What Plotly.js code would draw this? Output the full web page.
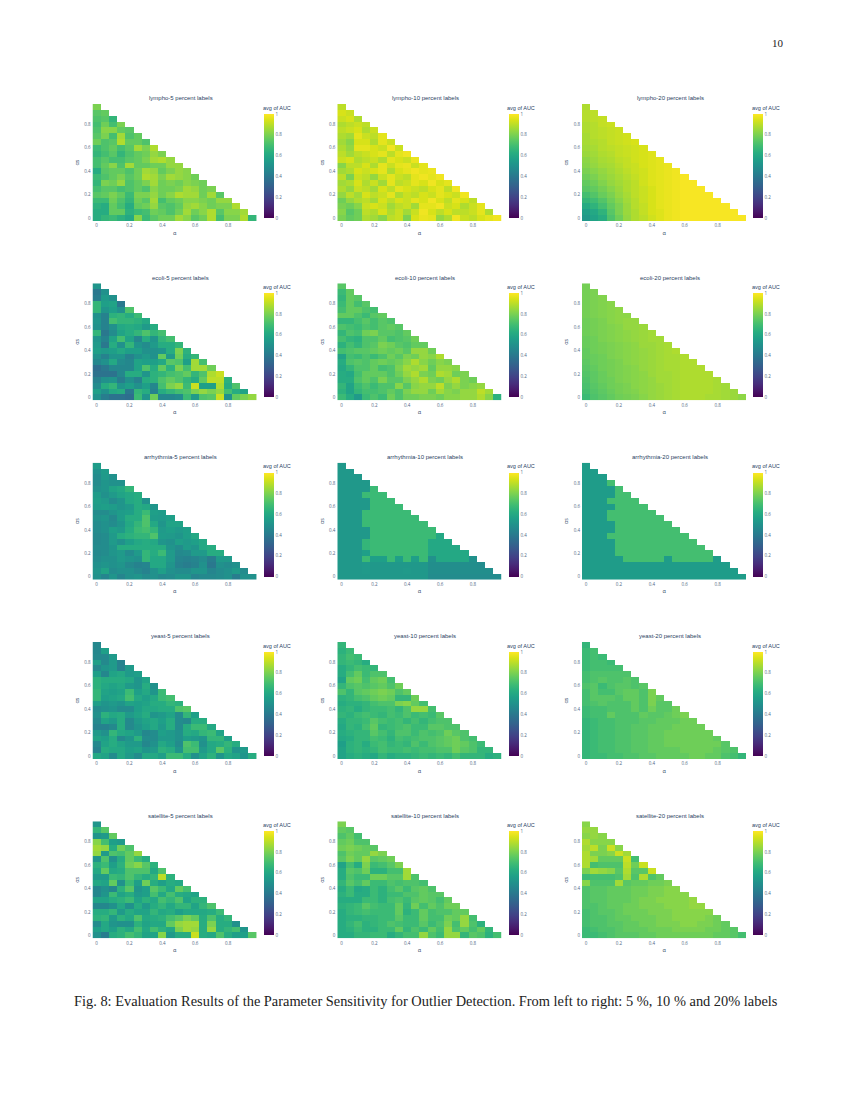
<!DOCTYPE html>
<html>
<head>
<meta charset="utf-8">
<script src="https://cdn.plot.ly/plotly-3.0.1.min.js"></script>
<style>
html, body { margin: 0; padding: 0; background: #fff; }
#page { width: 850px; height: 1100px; }
</style>
</head>
<body>
<div id="page"></div>
<script>
// grid values of both parameters
const grid = [0, 0.05, 0.1, 0.15, 0.2, 0.25, 0.3, 0.35, 0.4, 0.45, 0.5, 0.55, 0.6, 0.65, 0.7, 0.75, 0.8, 0.85, 0.9, 0.95];
const axis_ticks = [0, 0.2, 0.4, 0.6, 0.8];
const bar_ticks = [0, 0.2, 0.4, 0.6, 0.8, 1];
const datasets = ["lympho", "ecoli", "arrhythmia", "yeast", "satellite"];
const percents = [5, 10, 20];

// avg of AUC x100. First row is y = 0, rows get shorter going up.
const lympho_5 = [
  [62,66,68,64,60,82,68,74,78,78,86,82,74,78,88,70,80,80,88,66],
  [62,62,76,76,64,68,70,78,76,72,78,86,78,82,88,74,82,82,86],
  [64,62,76,70,62,76,78,84,74,72,76,84,86,82,78,80,80,88],
  [68,68,78,72,66,78,74,86,70,76,78,82,82,80,78,84,84],
  [74,76,80,76,68,80,80,84,78,82,88,86,86,78,86,74],
  [70,74,74,70,72,76,72,82,78,78,80,86,84,78,80],
  [66,80,78,84,72,76,80,86,78,80,78,82,80,78],
  [68,72,76,80,74,78,88,86,80,86,84,82,78],
  [62,74,76,76,72,78,86,84,76,80,84,82],
  [70,76,82,72,86,76,76,78,78,84,84],
  [70,74,70,70,74,76,80,86,88,84],
  [66,70,74,66,72,76,78,84,80],
  [68,72,76,70,74,86,80,88],
  [78,72,74,88,76,76,72],
  [74,80,70,86,72,76],
  [72,82,82,76,74],
  [70,78,70,80],
  [72,74,66],
  [74,76],
  [80]
];
const lympho_10 = [
  [80,76,78,88,86,82,90,92,80,94,97,96,84,88,98,92,90,94,96,98],
  [82,74,78,90,88,94,88,92,86,92,98,94,90,94,90,90,92,96,88],
  [80,78,82,92,94,92,86,90,92,86,96,96,98,92,94,88,92,96],
  [78,84,88,90,86,94,90,94,92,96,94,98,94,90,96,94,90],
  [84,90,86,94,90,92,96,88,92,90,94,92,96,94,92,98],
  [88,84,92,90,86,94,90,96,94,92,90,94,96,90,98],
  [86,88,94,88,92,86,96,90,92,96,94,98,94,96],
  [90,80,92,90,84,92,96,92,90,96,98,96,98],
  [86,88,94,92,94,96,88,94,96,98,96,97],
  [82,90,90,94,88,96,92,96,97,92,96],
  [92,94,88,90,92,88,96,94,92,97],
  [90,86,90,92,94,96,90,96,98],
  [88,84,96,96,94,92,98,92],
  [86,82,94,94,88,96,92],
  [88,86,96,92,90,96],
  [90,92,94,88,92],
  [88,90,92,90],
  [92,94,88],
  [94,92],
  [90]
];
const lympho_20 = [
  [53,58,62,72,78,84,88,90,93,95,97,98,99,99,99,99,99,99,99,99],
  [56,60,65,74,80,85,88,91,94,95,97,98,99,99,99,99,99,99,99],
  [61,65,70,76,80,85,89,91,94,96,97,98,99,99,99,99,99,99],
  [66,69,73,78,82,86,89,92,94,96,97,98,99,99,99,99,99],
  [70,73,77,80,84,87,90,92,94,96,97,98,99,99,99,99],
  [74,76,79,82,85,88,90,92,94,96,97,98,99,99,99],
  [76,78,81,84,86,88,90,93,95,96,97,98,99,99],
  [78,80,83,85,87,89,91,93,95,96,97,98,99],
  [80,82,84,86,88,90,92,93,95,96,97,98],
  [82,84,86,87,89,91,92,94,95,96,97],
  [83,85,87,88,90,91,93,94,95,96],
  [85,86,88,89,91,92,93,94,95],
  [86,87,89,90,91,92,93,94],
  [87,88,89,91,92,93,94],
  [87,89,90,91,92,93],
  [88,89,90,91,92],
  [88,89,91,92],
  [89,90,91],
  [89,90],
  [88]
];
const ecoli_5 = [
  [50,42,38,38,36,68,52,78,46,46,48,68,54,72,74,92,50,76,80,84],
  [56,50,60,62,40,66,62,44,62,66,70,72,80,84,80,84,70,62,58],
  [48,62,66,52,56,50,56,46,70,80,84,68,92,56,56,88,62,72],
  [44,50,52,42,50,44,62,64,72,76,72,66,62,76,90,90,64],
  [38,38,38,46,62,62,52,64,66,70,72,76,66,72,88,92],
  [36,40,46,46,46,58,72,62,76,64,80,70,86,86,78],
  [46,50,60,48,46,58,56,56,60,74,72,56,86,70],
  [50,44,52,52,44,50,54,50,76,54,78,62,66],
  [56,54,56,60,56,56,50,50,52,62,80,64],
  [54,40,62,50,66,52,48,54,62,62,66],
  [52,44,58,70,58,46,62,52,66,70],
  [66,40,48,58,62,66,72,66,70],
  [50,44,50,60,62,60,54,62],
  [52,44,70,66,66,64,60],
  [50,44,64,66,62,68],
  [66,52,56,50,72],
  [66,56,58,40],
  [42,54,50],
  [40,50],
  [52]
];
const ecoli_10 = [
  [68,62,54,68,72,68,78,72,78,78,80,80,78,82,82,84,84,88,82,64],
  [64,58,66,70,70,72,76,72,80,84,84,78,86,82,80,84,84,90,86],
  [66,58,68,72,68,72,72,82,74,82,84,84,90,80,84,80,82,84],
  [62,62,72,76,72,80,74,74,80,84,88,80,78,84,88,80,78],
  [62,60,70,76,76,76,72,78,84,88,80,78,88,86,78,80],
  [60,66,72,72,76,70,72,80,86,84,86,76,84,84,82],
  [62,72,74,72,76,78,76,78,82,88,82,78,82,80],
  [58,70,68,72,68,72,78,74,80,78,84,82,88],
  [70,72,74,74,76,78,76,78,74,84,84,78],
  [64,70,66,72,74,80,78,74,72,76,76],
  [70,66,64,72,72,76,70,72,74,78],
  [66,72,70,78,80,74,74,72,76],
  [72,70,68,72,70,74,76,74],
  [66,66,70,74,70,74,72],
  [76,76,72,68,74,76],
  [70,76,76,72,70],
  [68,76,70,74],
  [66,76,74],
  [68,76],
  [74]
];
const ecoli_20 = [
  [68,72,74,76,78,79,80,82,84,85,86,87,88,88,88,87,87,86,85,83],
  [70,73,75,77,79,80,81,83,84,85,86,87,88,88,88,88,87,86,85],
  [71,74,76,78,79,80,82,83,84,85,86,87,88,88,88,88,87,86],
  [72,75,77,78,80,81,82,83,84,86,86,87,88,88,88,88,87],
  [73,75,77,79,80,81,82,83,85,86,86,87,88,88,88,88],
  [74,76,78,79,80,81,82,84,85,86,87,87,88,88,88],
  [75,77,78,79,80,82,83,84,85,86,87,87,88,88],
  [76,77,78,80,81,82,83,84,85,86,87,87,88],
  [76,78,79,80,81,82,83,84,85,86,87,88],
  [77,78,79,80,81,82,83,85,85,86,87],
  [77,78,80,81,82,83,84,85,86,86],
  [78,79,80,81,82,83,84,85,86],
  [78,79,80,81,82,84,84,85],
  [78,79,80,82,83,84,84],
  [79,80,81,82,83,83],
  [79,80,81,82,83],
  [79,80,81,82],
  [79,80,81],
  [79,80],
  [79]
];
const arrhythmia_5 = [
  [50,45,52,45,50,52,48,50,47,48,52,52,45,47,47,48,50,42,50,50],
  [52,58,48,50,50,47,44,50,56,50,48,48,52,52,45,48,50,54,48],
  [50,52,50,52,47,44,45,60,60,52,44,42,44,50,40,50,48,50],
  [48,50,50,54,52,50,66,60,60,54,45,44,45,48,42,54,54],
  [47,48,52,54,48,54,66,62,68,54,47,48,54,54,62,62],
  [48,48,52,62,62,62,62,62,62,52,48,55,52,60,62],
  [47,48,54,50,56,60,62,60,52,50,56,54,56,60],
  [47,48,54,62,64,66,66,72,55,54,52,56,60],
  [48,50,56,54,62,68,70,66,54,56,54,56],
  [48,50,48,52,60,66,72,60,52,58,58],
  [50,52,47,55,62,62,72,55,54,56],
  [48,48,52,55,56,62,68,56,55],
  [55,56,55,52,54,62,60,52],
  [56,54,48,52,60,62,50],
  [55,50,54,58,60,62],
  [50,52,58,60,66],
  [48,52,50,50],
  [48,54,50],
  [50,55],
  [55]
];
const arrhythmia_10 = [
  [53,53,53,53,53,53,53,53,53,53,53,48,48,48,48,48,48,48,48,48],
  [53,53,53,54,53,53,53,53,54,53,53,49,49,49,49,49,49,49,49],
  [53,53,53,54,53,53,53,53,53,53,53,49,49,49,49,49,49,48],
  [53,53,53,68,56,56,68,56,68,56,68,50,60,60,60,60,50],
  [53,53,53,56,68,68,68,68,68,68,68,60,60,60,60,60],
  [53,53,53,66,68,68,68,68,68,68,68,60,60,60,60],
  [53,53,53,66,68,68,68,68,68,68,68,60,60,60],
  [53,53,53,53,68,68,68,68,68,68,68,68,60],
  [53,53,53,53,68,68,68,68,68,68,68,68],
  [53,53,53,68,68,68,68,68,68,68,68],
  [53,53,53,68,68,68,68,68,68,68],
  [53,53,53,68,68,68,68,68,68],
  [53,53,53,53,68,68,68,68],
  [53,53,53,53,68,68,68],
  [53,53,53,68,68,68],
  [53,53,53,53,68],
  [53,53,53,53],
  [53,53,53],
  [53,53],
  [53]
];
const arrhythmia_20 = [
  [55,55,55,55,55,55,55,55,55,55,55,55,55,55,55,55,55,55,55,55],
  [55,55,55,55,55,55,55,55,55,55,55,55,55,55,55,55,55,55,55],
  [55,55,55,55,55,55,55,55,55,55,55,55,55,55,55,55,55,55],
  [55,55,55,55,55,70,70,70,70,70,55,70,70,70,70,70,55],
  [55,55,55,55,70,70,70,70,70,70,70,70,70,70,70,70],
  [55,55,55,55,70,70,70,70,70,70,70,70,70,70,70],
  [55,55,55,55,70,70,70,70,70,70,70,70,70,70],
  [55,55,55,70,70,70,70,70,70,70,70,70,70],
  [55,55,55,55,70,70,70,70,70,70,70,70],
  [55,55,55,55,70,70,70,70,70,70,70],
  [55,55,55,70,70,70,70,70,70,70],
  [55,55,55,70,70,70,70,70,70],
  [55,55,55,55,70,70,70,70],
  [55,55,55,70,70,70,70],
  [55,55,55,55,70,70],
  [55,55,55,55,70],
  [55,55,55,70],
  [55,55,55],
  [55,55],
  [55]
];
const yeast_5 = [
  [60,58,48,60,54,48,60,60,56,68,68,62,50,58,64,52,60,58,52,62],
  [44,62,60,60,56,58,52,54,64,62,52,70,70,54,60,74,64,52,54],
  [47,58,62,58,54,54,46,50,60,56,48,72,68,50,60,62,66,62],
  [58,56,62,47,52,64,48,48,54,54,50,56,54,52,66,66,56],
  [54,50,66,60,58,54,46,48,56,54,50,62,60,66,68,58],
  [44,44,47,62,47,52,56,60,54,62,48,62,68,68,60],
  [47,58,54,62,47,54,58,60,56,62,48,47,62,62],
  [50,64,60,62,54,58,62,52,54,58,48,66,56],
  [48,50,52,48,48,56,60,60,62,62,72,74],
  [56,52,54,52,58,56,58,62,62,66,64],
  [66,56,58,60,70,60,56,60,68,70],
  [66,58,56,58,68,56,60,52,68],
  [64,60,58,60,54,52,62,50],
  [64,62,62,62,60,52,58],
  [56,46,58,60,54,56],
  [47,52,54,44,54],
  [56,47,54,44],
  [47,47,54],
  [46,56],
  [46]
];
const yeast_10 = [
  [58,62,64,62,60,66,62,64,64,66,68,66,68,66,70,66,66,66,62,64],
  [58,64,66,64,66,70,68,68,70,68,70,70,72,72,78,74,72,66,66],
  [56,64,66,62,68,70,66,68,66,72,68,72,74,76,78,76,72,68],
  [60,62,66,66,70,68,64,70,68,70,72,72,74,76,78,72,70],
  [62,64,66,66,74,70,66,72,72,68,72,70,72,78,74,72],
  [60,66,64,70,76,66,68,70,72,68,68,74,74,72,72],
  [62,66,66,68,74,70,68,70,66,70,66,70,72,72],
  [66,64,68,70,68,66,70,68,72,68,70,68,74],
  [64,66,62,66,68,68,70,66,72,84,84,70],
  [62,64,64,66,70,72,72,80,82,76,70],
  [64,66,70,72,76,78,76,66,66,78],
  [72,66,74,76,78,80,78,72,76],
  [66,72,74,72,74,76,72,78],
  [58,76,78,70,76,78,70],
  [62,70,76,68,72,72],
  [62,66,70,68,66],
  [66,68,66,62],
  [66,70,68],
  [64,68],
  [66]
];
const yeast_20 = [
  [66,68,68,70,70,72,72,74,74,76,76,76,76,78,78,76,76,72,70,66],
  [66,68,70,70,72,72,74,74,76,76,76,76,78,78,78,78,76,74,72],
  [66,68,70,70,72,72,74,74,76,76,78,78,78,78,78,78,78,74],
  [66,68,70,70,72,72,74,74,76,76,78,78,78,78,78,78,76],
  [66,68,70,70,72,72,74,74,76,76,78,78,78,78,78,78],
  [66,68,70,70,72,72,74,74,76,76,76,78,78,78,78],
  [66,68,70,70,72,72,72,74,74,76,76,76,78,78],
  [68,70,70,76,72,72,72,76,74,74,76,78,80],
  [68,70,70,72,72,72,76,72,78,74,74,78],
  [70,72,74,72,72,72,76,72,80,74,74],
  [70,74,74,74,72,76,76,72,80,76],
  [70,74,70,70,74,76,76,72,80],
  [72,74,68,72,74,74,72,74],
  [70,72,74,72,72,74,72],
  [70,72,72,72,72,72],
  [68,70,70,70,70],
  [68,70,70,68],
  [68,70,68],
  [68,70],
  [66]
];
const satellite_5 = [
  [50,42,62,64,70,66,58,58,82,54,62,62,92,62,60,72,62,56,56,74],
  [56,60,56,64,60,70,60,70,64,60,80,86,84,62,84,62,66,70,52],
  [48,60,52,50,50,64,58,60,60,76,84,86,86,62,80,62,62,50],
  [64,66,54,64,60,72,60,62,64,70,74,80,76,62,72,62,66],
  [62,62,66,54,62,58,58,66,60,62,56,60,60,60,62,68],
  [46,46,50,60,50,62,54,62,66,60,66,66,58,66,72],
  [58,58,62,64,68,58,64,60,70,66,72,58,64,64],
  [46,52,68,58,62,54,56,70,60,70,62,60,58],
  [46,50,46,64,74,52,56,74,68,60,76,70],
  [60,58,76,50,68,56,78,62,56,62,60],
  [54,54,68,66,72,66,62,66,90,64],
  [60,76,60,62,72,72,72,60,72],
  [64,68,56,64,78,82,74,64],
  [52,72,50,62,76,68,62],
  [84,54,72,70,76,84],
  [86,84,62,78,72],
  [82,70,56,54],
  [52,54,76],
  [66,74],
  [52]
];
const satellite_10 = [
  [62,62,66,66,68,68,62,66,70,70,84,72,68,84,84,66,74,72,64,70],
  [62,64,68,64,64,68,68,76,66,72,68,76,70,84,72,76,70,76,66],
  [62,66,70,64,66,68,72,70,68,68,74,68,72,80,70,84,72,64],
  [62,64,64,66,66,68,68,74,68,68,76,70,70,78,76,84,70],
  [62,66,68,70,68,68,68,76,64,68,76,70,72,72,76,76],
  [64,66,68,74,70,68,68,76,66,78,70,76,72,78,78],
  [62,62,62,68,68,64,70,72,68,74,76,74,70,76],
  [64,68,62,62,68,64,68,68,72,72,76,74,74],
  [62,68,60,62,68,64,70,74,68,74,76,72],
  [66,74,70,76,68,68,72,70,72,72,70],
  [62,72,68,68,78,78,74,74,86,72],
  [62,74,72,78,64,64,70,70,86],
  [58,70,62,80,68,70,74,80],
  [74,80,76,84,74,76,78],
  [72,78,76,76,84,80],
  [78,80,78,76,74],
  [76,78,72,72],
  [72,76,70],
  [76,74],
  [80]
];
const satellite_20 = [
  [68,68,70,72,74,74,74,76,76,78,78,78,78,78,78,78,76,76,74,70],
  [68,70,72,72,74,76,76,76,78,78,78,80,80,80,80,78,78,76,74],
  [70,72,72,74,74,76,76,78,78,80,80,80,82,82,80,80,78,76],
  [70,72,72,74,76,76,78,78,78,80,80,82,82,82,82,80,78],
  [70,72,74,74,76,78,78,78,80,80,80,82,82,82,82,82],
  [72,72,74,76,76,78,78,80,80,80,82,82,82,84,84],
  [72,74,74,76,76,76,78,80,80,82,82,82,82,84],
  [72,74,74,76,76,76,78,78,80,80,82,82,82],
  [72,74,74,76,76,76,78,78,80,80,82,82],
  [82,72,72,72,86,74,76,76,78,78,80],
  [68,70,70,70,72,86,72,88,72,76],
  [80,86,84,82,74,88,74,74,92],
  [88,70,72,72,72,90,78,92],
  [88,86,76,76,76,92,70],
  [88,80,80,82,92,86],
  [86,90,80,92,82],
  [88,82,82,82],
  [82,84,82],
  [84,84],
  [82]
];

const panels = [
  lympho_5, lympho_10, lympho_20,
  ecoli_5, ecoli_10, ecoli_20,
  arrhythmia_5, arrhythmia_10, arrhythmia_20,
  yeast_5, yeast_10, yeast_20,
  satellite_5, satellite_10, satellite_20
];

const caption = "Fig. 8: Evaluation Results of the Parameter Sensitivity for Outlier Detection. From left to right: 5 %, 10 % and 20% labels";

// page layout in pixels
const W = 850, H = 1100;
const col_left = [92.5, 337.3, 582];
const row_top = [104, 283.3, 462.7, 642, 821.3];
const cell_w = 164.4, cell_h = 117;
const ink = "#2a3f5f", tick_ink = "#506784";

const data = [];
const layout = {
  width: W,
  height: H,
  margin: { l: 0, r: 0, t: 0, b: 0, autoexpand: false },
  paper_bgcolor: "#fff",
  plot_bgcolor: "#fff",
  showlegend: false,
  annotations: []
};

const page_note = (text, x, y, font) => layout.annotations.push({
  text: text, x: x / W, y: 1 - y / H, xref: "paper", yref: "paper",
  xanchor: "center", yanchor: "middle", showarrow: false, font: font
});

page_note("10", 778, 43, { family: "Liberation Serif", size: 11, color: "#222" });
page_note(caption, 425.5, 1001, { family: "Liberation Serif", size: 14.4, color: "#222" });

panels.forEach((rows, n) => {
  const r = Math.floor(n / 3), c = n % 3;
  const id = n + 1;
  const left = col_left[c], top = row_top[r];

  // pad the triangle so the heatmap gets a full matrix
  const z = rows.map(row => grid.map((_, i) => i < row.length ? row[i] / 100 : null));

  data.push({
    type: "heatmap",
    x: grid,
    y: grid,
    z: z,
    xaxis: "x" + id,
    yaxis: "y" + id,
    colorscale: "Viridis",
    zmin: 0,
    zmax: 1,
    colorbar: {
      x: (left + 171.2) / W,
      xanchor: "left",
      y: 1 - (top + 114) / H,
      yanchor: "bottom",
      len: 104,
      lenmode: "pixels",
      thickness: 10,
      xpad: 0,
      ypad: 0,
      outlinewidth: 0,
      tickvals: bar_ticks,
      ticklen: 0,
      tickfont: { size: 4.5, color: tick_ink }
    }
  });

  layout["xaxis" + id] = {
    domain: [left / W, (left + cell_w) / W],
    anchor: "y" + id,
    range: [-0.025, 0.975],
    tickvals: axis_ticks,
    ticklen: 0,
    showgrid: false,
    zeroline: false,
    tickfont: { size: 4.5, color: tick_ink },
    title: { text: "α", standoff: 3, font: { size: 5.5, color: ink } }
  };
  layout["yaxis" + id] = {
    domain: [1 - (top + cell_h) / H, 1 - top / H],
    anchor: "x" + id,
    range: [-0.025, 0.975],
    tickvals: axis_ticks,
    ticklen: 0,
    showgrid: false,
    zeroline: false,
    tickfont: { size: 4.5, color: tick_ink },
    title: { text: "αs", standoff: 4, font: { size: 5.5, color: ink } }
  };

  page_note(datasets[r] + "-" + percents[c] + " percent labels", left + 88, top - 5.7,
    { family: "Liberation Sans", size: 6, color: ink });
  // colorbar heading sits closer to the bar than a colorbar title can
  page_note("avg of AUC", left + 184, top + 3.5,
    { family: "Liberation Sans", size: 5.5, color: ink });
});

Plotly.newPlot("page", data, layout, { staticPlot: true, displayModeBar: false });
</script>
</body>
</html>
